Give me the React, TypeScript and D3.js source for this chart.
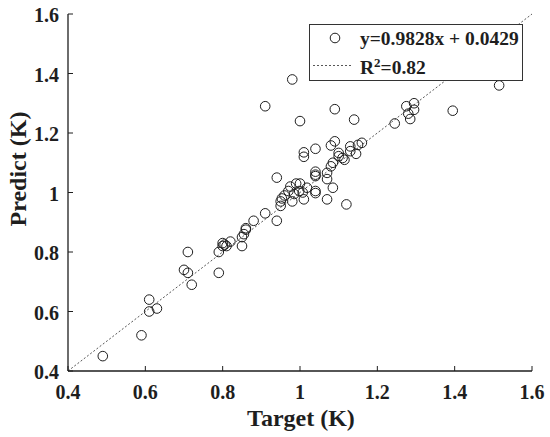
import React from 'react';
import * as d3 from 'd3';

// values
const target = [
  0.49, 0.59, 0.61, 0.61, 0.63, 0.71, 0.70, 0.71, 0.72, 0.79,
  0.79, 0.80, 0.80, 0.805, 0.81, 0.82, 0.85, 0.85, 0.855, 0.86,
  0.86, 0.88, 0.91, 0.94, 0.94, 0.95, 0.95, 0.953, 0.96, 0.97,
  0.975, 0.98, 0.985, 1.00, 0.998, 1.007, 1.01, 1.018, 1.01, 1.01,
  1.04, 1.04, 1.04, 1.04, 1.04, 1.04, 1.07, 1.07, 1.07, 1.08,
  1.085, 1.085, 1.08, 1.09, 1.10, 1.10, 1.11, 1.115, 1.12, 1.13,
  1.13, 1.145, 1.15, 1.16, 0.98, 0.91, 1.00, 1.09, 1.14, 1.245,
  1.275, 1.295, 1.28, 1.295, 1.285, 1.395, 1.515, 0.99,
];
const predict = [
  0.45, 0.52, 0.64, 0.60, 0.61, 0.80, 0.74, 0.73, 0.69, 0.73,
  0.80, 0.82, 0.83, 0.825, 0.82, 0.835, 0.82, 0.85, 0.86, 0.875,
  0.88, 0.905, 0.93, 0.905, 1.05, 0.955, 0.97, 0.98, 0.99, 1.005,
  1.02, 0.97, 0.995, 1.03, 1.005, 1.0, 0.977, 1.016, 1.135, 1.12,
  1.147, 1.07, 1.06, 1.055, 1.005, 0.998, 0.977, 1.045, 1.066, 1.088,
  1.10, 1.016, 1.158, 1.172, 1.122, 1.133, 1.116, 1.11, 0.96, 1.155,
  1.139, 1.13, 1.16, 1.167, 1.38, 1.29, 1.24, 1.28, 1.245, 1.232,
  1.29, 1.30, 1.265, 1.278, 1.247, 1.275, 1.36, 1.03,
];
const xTicks = [0.4, 0.6, 0.8, 1, 1.2, 1.4, 1.6];
const yTicks = [0.4, 0.6, 0.8, 1, 1.2, 1.4, 1.6];
const fitLabel = 'y=0.9828x + 0.0429';
const r2Label = '0.82';

const W = 550;
const H = 437;
const ink = '#1e1e1e';
const font = '"Liberation Serif", "Times New Roman", serif';

export default function App() {
  const x = d3.scaleLinear().domain([0.4, 1.6]).range([68, 532]);
  const y = d3.scaleLinear().domain([0.4, 1.6]).range([371, 14]);
  const refLine = d3.line<number>().x(d => x(d)).y(d => y(d));

  return (
    <svg width={W} height={H} style={{ position: 'absolute', left: 0, top: 0, background: '#fff' }}
      fontFamily={font} fontWeight="bold" fill={ink}>
      {/* 1:1 reference line */}
      <path d={refLine([0.4, 1.6]) || ''} fill="none" stroke="#444" strokeWidth={0.9} strokeDasharray="2,2" />

      {target.map((t, i) => (
        <circle key={i} cx={x(t)} cy={y(predict[i])} r={4.8} fill="none" stroke={ink} strokeWidth={1} />
      ))}

      {/* axes */}
      <line x1={x(0.4)} x2={x(1.6)} y1={y(0.4)} y2={y(0.4)} stroke={ink} strokeWidth={1.3} />
      <line x1={x(0.4)} x2={x(0.4)} y1={y(0.4)} y2={y(1.6)} stroke={ink} strokeWidth={1.3} />
      {xTicks.map(t => (
        <g key={'x' + t}>
          <line x1={x(t)} x2={x(t)} y1={y(0.4)} y2={y(0.4) - 5} stroke={ink} strokeWidth={1} />
          <text x={x(t)} y={399} textAnchor="middle" fontSize={20}>{t}</text>
        </g>
      ))}
      {yTicks.map(t => (
        <g key={'y' + t}>
          <line x1={x(0.4)} x2={x(0.4) + 5} y1={y(t)} y2={y(t)} stroke={ink} strokeWidth={1} />
          <text x={59} y={y(t) + 8} textAnchor="end" fontSize={20}>{t}</text>
        </g>
      ))}
      <text x={301} y={426} textAnchor="middle" fontSize={24}>Target (K)</text>
      <text transform="translate(26,169) rotate(-90)" textAnchor="middle" fontSize={24}>Predict (K)</text>

      {/* legend */}
      <rect x={309.5} y={24.5} width={213} height={56} fill="#fff" stroke="#333" strokeWidth={1} />
      <circle cx={335} cy={38} r={4.8} fill="none" stroke={ink} strokeWidth={1} />
      <text x={360} y={45} fontSize={19.5}>{fitLabel}</text>
      <line x1={313} x2={352} y1={65.5} y2={65.5} stroke="#444" strokeWidth={0.9} strokeDasharray="2,2" />
      <text x={360} y={74} fontSize={19.5}>R<tspan dy={-7} fontSize={13}>2</tspan><tspan dy={7}>={r2Label}</tspan></text>
    </svg>
  );
}
